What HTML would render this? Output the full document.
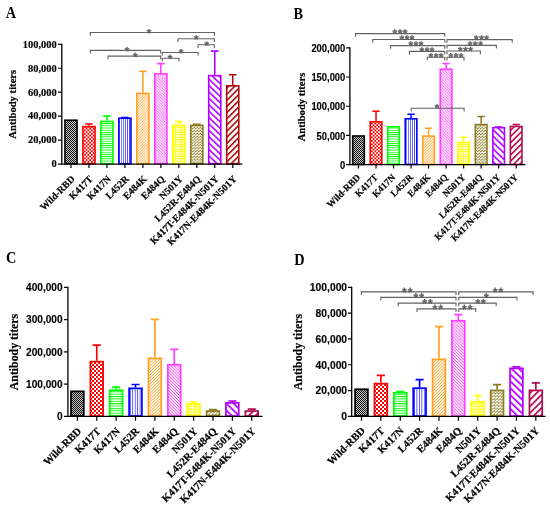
<!DOCTYPE html>
<html lang="en"><head><meta charset="utf-8"><title>Antibody titers</title>
<style>html,body{margin:0;padding:0;background:#fff}body{width:550px;height:510px;overflow:hidden}svg{display:block}.s{font-family:"Liberation Serif","DejaVu Serif",serif;font-weight:bold}.x{fill:#000;stroke:#000;stroke-width:0.22px}.s{stroke:#000;stroke-width:0.2px}.t{stroke:#000;stroke-width:0.15px}.a{font-family:"Liberation Sans","DejaVu Sans",sans-serif;font-weight:bold}</style></head><body>
<svg width="550" height="510" viewBox="0 0 550 510">
<rect width="550" height="510" fill="#fff"/>
<defs><pattern id="p0A" width="2" height="2" patternUnits="userSpaceOnUse" ><rect width="2" height="2" fill="#c4c4c4"/><rect width="1" height="1" fill="#151515"/><rect x="1" y="1" width="1" height="1" fill="#151515"/></pattern><pattern id="p1A" width="3.5" height="3.5" patternUnits="userSpaceOnUse" ><rect width="3.5" height="3.5" fill="#fff"/><rect width="1.75" height="1.75" fill="#ff0000"/><rect x="1.75" y="1.75" width="1.75" height="1.75" fill="#ff0000"/></pattern><pattern id="p2A" width="4" height="2.2" patternUnits="userSpaceOnUse" ><rect width="4" height="2.2" fill="#fff"/><rect width="4" height="0.9" fill="#00ff00"/></pattern><pattern id="p3A" width="2.05" height="4" patternUnits="userSpaceOnUse" ><rect width="2.05" height="4" fill="#fff"/><rect width="0.5" height="4" fill="#0000ff"/></pattern><pattern id="p4A" width="2" height="2" patternUnits="userSpaceOnUse" patternTransform="rotate(45)"><rect width="2" height="2" fill="#fff"/><rect width="0.72" height="2" fill="#ffa024"/></pattern><pattern id="p5A" width="2" height="2" patternUnits="userSpaceOnUse" patternTransform="rotate(-45)"><rect width="2" height="2" fill="#fff"/><rect width="0.72" height="2" fill="#ff3cff"/></pattern><pattern id="p6A" width="2.4" height="2.4" patternUnits="userSpaceOnUse" ><rect width="2.4" height="2.4" fill="#fff"/><rect width="2.4" height="0.78" fill="#ffff00"/><rect width="0.78" height="2.4" fill="#ffff00"/></pattern><pattern id="p7A" width="3" height="2.85" patternUnits="userSpaceOnUse" ><rect width="3" height="2.85" fill="#8b7a1e"/><path d="M0.6 2.05L2.4 0.8" stroke="#fff" stroke-width="1.6" stroke-linecap="round" fill="none"/></pattern><pattern id="p8A" width="4.6" height="4.6" patternUnits="userSpaceOnUse" patternTransform="rotate(-46)"><rect width="4.6" height="4.6" fill="#fff"/><rect width="1.6" height="4.6" fill="#b000ff"/></pattern><pattern id="p9A" width="4.35" height="4.35" patternUnits="userSpaceOnUse" patternTransform="rotate(45)"><rect width="4.35" height="4.35" fill="#fff"/><rect width="1.6" height="4.35" fill="#b00a0a"/></pattern><pattern id="p0B" width="2" height="2" patternUnits="userSpaceOnUse" ><rect width="2" height="2" fill="#c4c4c4"/><rect width="1" height="1" fill="#151515"/><rect x="1" y="1" width="1" height="1" fill="#151515"/></pattern><pattern id="p1B" width="3.5" height="3.5" patternUnits="userSpaceOnUse" ><rect width="3.5" height="3.5" fill="#fff"/><rect width="1.75" height="1.75" fill="#ff0000"/><rect x="1.75" y="1.75" width="1.75" height="1.75" fill="#ff0000"/></pattern><pattern id="p2B" width="4" height="2.2" patternUnits="userSpaceOnUse" ><rect width="4" height="2.2" fill="#fff"/><rect width="4" height="0.9" fill="#00ff00"/></pattern><pattern id="p3B" width="2.05" height="4" patternUnits="userSpaceOnUse" ><rect width="2.05" height="4" fill="#fff"/><rect width="0.5" height="4" fill="#0000ff"/></pattern><pattern id="p4B" width="2" height="2" patternUnits="userSpaceOnUse" patternTransform="rotate(45)"><rect width="2" height="2" fill="#fff"/><rect width="0.72" height="2" fill="#ffa024"/></pattern><pattern id="p5B" width="2" height="2" patternUnits="userSpaceOnUse" patternTransform="rotate(-45)"><rect width="2" height="2" fill="#fff"/><rect width="0.72" height="2" fill="#ff3cff"/></pattern><pattern id="p6B" width="2.4" height="2.4" patternUnits="userSpaceOnUse" ><rect width="2.4" height="2.4" fill="#fff"/><rect width="2.4" height="0.78" fill="#ffff00"/><rect width="0.78" height="2.4" fill="#ffff00"/></pattern><pattern id="p7B" width="3" height="2.85" patternUnits="userSpaceOnUse" ><rect width="3" height="2.85" fill="#8b7a1e"/><path d="M0.6 2.05L2.4 0.8" stroke="#fff" stroke-width="1.6" stroke-linecap="round" fill="none"/></pattern><pattern id="p8B" width="4.6" height="4.6" patternUnits="userSpaceOnUse" patternTransform="rotate(-46)"><rect width="4.6" height="4.6" fill="#fff"/><rect width="1.6" height="4.6" fill="#b000ff"/></pattern><pattern id="p9B" width="4.35" height="4.35" patternUnits="userSpaceOnUse" patternTransform="rotate(45)"><rect width="4.35" height="4.35" fill="#fff"/><rect width="1.6" height="4.35" fill="#b00c52"/></pattern><pattern id="p0C" width="2" height="2" patternUnits="userSpaceOnUse" ><rect width="2" height="2" fill="#c4c4c4"/><rect width="1" height="1" fill="#151515"/><rect x="1" y="1" width="1" height="1" fill="#151515"/></pattern><pattern id="p1C" width="4" height="4" patternUnits="userSpaceOnUse" ><rect width="4" height="4" fill="#fff"/><rect width="2" height="2" fill="#ff0000"/><rect x="2" y="2" width="2" height="2" fill="#ff0000"/></pattern><pattern id="p2C" width="4" height="2.2" patternUnits="userSpaceOnUse" patternTransform="scale(1.078)"><rect width="4" height="2.2" fill="#fff"/><rect width="4" height="0.9" fill="#00ff00"/></pattern><pattern id="p3C" width="2.45" height="4" patternUnits="userSpaceOnUse" ><rect width="2.45" height="4" fill="#fff"/><rect width="0.62" height="4" fill="#0000ff"/></pattern><pattern id="p4C" width="2" height="2" patternUnits="userSpaceOnUse" patternTransform="rotate(45) scale(1.078)"><rect width="2" height="2" fill="#fff"/><rect width="0.72" height="2" fill="#ffa024"/></pattern><pattern id="p5C" width="2" height="2" patternUnits="userSpaceOnUse" patternTransform="rotate(-45) scale(1.078)"><rect width="2" height="2" fill="#fff"/><rect width="0.72" height="2" fill="#ff3cff"/></pattern><pattern id="p6C" width="2.4" height="2.4" patternUnits="userSpaceOnUse" patternTransform="scale(1.078)"><rect width="2.4" height="2.4" fill="#fff"/><rect width="2.4" height="0.78" fill="#ffff00"/><rect width="0.78" height="2.4" fill="#ffff00"/></pattern><pattern id="p7C" width="3" height="2.85" patternUnits="userSpaceOnUse" patternTransform="scale(1.078)"><rect width="3" height="2.85" fill="#8b7a1e"/><path d="M0.6 2.05L2.4 0.8" stroke="#fff" stroke-width="1.6" stroke-linecap="round" fill="none"/></pattern><pattern id="p8C" width="4.6" height="4.6" patternUnits="userSpaceOnUse" patternTransform="rotate(-46) scale(1.078)"><rect width="4.6" height="4.6" fill="#fff"/><rect width="1.6" height="4.6" fill="#b000ff"/></pattern><pattern id="p9C" width="4.35" height="4.35" patternUnits="userSpaceOnUse" patternTransform="rotate(45) scale(1.078)"><rect width="4.35" height="4.35" fill="#fff"/><rect width="1.6" height="4.35" fill="#b00c52"/></pattern></defs>
<g id="panelA">
<text class="s" style="stroke:none" transform="translate(5.8 18) scale(0.9 1)" font-size="15.9" fill="#000">A</text>
<rect x="64.95" y="120.2" width="12.1" height="43.55" fill="url(#p0A)" stroke="#000000" stroke-width="1.6"/>
<path d="M88.97 125.8V124M85.22 124H92.72" stroke="#ff0000" stroke-width="1.55" fill="none"/>
<rect x="82.92" y="126.6" width="12.1" height="37.15" fill="url(#p1A)" stroke="#ff0000" stroke-width="1.6"/>
<path d="M106.94 120.7V116.1M103.19 116.1H110.69" stroke="#00ff00" stroke-width="1.55" fill="none"/>
<rect x="100.89" y="121.5" width="12.1" height="42.25" fill="url(#p2A)" stroke="#00ff00" stroke-width="1.6"/>
<path d="M124.91 117.4V117.6M121.16 117.6H128.66" stroke="#0000ff" stroke-width="1.55" fill="none"/>
<rect x="118.86" y="118.2" width="12.1" height="45.55" fill="url(#p3A)" stroke="#0000ff" stroke-width="1.6"/>
<path d="M142.88 92.6V71.2M139.13 71.2H146.63" stroke="#ffa024" stroke-width="1.55" fill="none"/>
<rect x="136.83" y="93.4" width="12.1" height="70.35" fill="url(#p4A)" stroke="#ffa024" stroke-width="1.6"/>
<path d="M160.85 73V63.6M157.1 63.6H164.6" stroke="#ff3cff" stroke-width="1.55" fill="none"/>
<rect x="154.8" y="73.8" width="12.1" height="89.95" fill="url(#p5A)" stroke="#ff3cff" stroke-width="1.6"/>
<path d="M178.82 124.6V121.6M175.07 121.6H182.57" stroke="#ffff00" stroke-width="1.55" fill="none"/>
<rect x="172.77" y="125.4" width="12.1" height="38.35" fill="url(#p6A)" stroke="#ffff00" stroke-width="1.6"/>
<path d="M196.79 124.6V124.3M193.04 124.3H200.54" stroke="#8b7a1e" stroke-width="1.55" fill="none"/>
<rect x="190.74" y="125.4" width="12.1" height="38.35" fill="url(#p7A)" stroke="#8b7a1e" stroke-width="1.6"/>
<path d="M214.76 74.8V51.1M211.01 51.1H218.51" stroke="#b000ff" stroke-width="1.55" fill="none"/>
<rect x="208.71" y="75.6" width="12.1" height="88.15" fill="url(#p8A)" stroke="#b000ff" stroke-width="1.6"/>
<path d="M232.73 85V74.8M228.98 74.8H236.48" stroke="#b00a0a" stroke-width="1.55" fill="none"/>
<rect x="226.68" y="85.8" width="12.1" height="77.95" fill="url(#p9A)" stroke="#b00a0a" stroke-width="1.6"/>
<path d="M61.8 43.7V164.05H242.4" stroke="#000" stroke-width="1.3" fill="none" stroke-linejoin="miter"/>
<text class="s t" x="56.7" y="167.35" font-size="10.45" text-anchor="end" fill="#000">0</text>
<text class="s t" x="56.7" y="143.4" font-size="10.45" text-anchor="end" fill="#000">20,000</text>
<text class="s t" x="56.7" y="119.45" font-size="10.45" text-anchor="end" fill="#000">40,000</text>
<text class="s t" x="56.7" y="95.5" font-size="10.45" text-anchor="end" fill="#000">60,000</text>
<text class="s t" x="56.7" y="71.55" font-size="10.45" text-anchor="end" fill="#000">80,000</text>
<text class="s t" x="56.7" y="47.6" font-size="10.45" text-anchor="end" fill="#000">100,000</text>
<path d="M58 164.05H61.8M58 140.1H61.8M58 116.15H61.8M58 92.2H61.8M58 68.25H61.8M58 44.3H61.8M71 164.05V168.05M88.97 164.05V168.05M106.94 164.05V168.05M124.91 164.05V168.05M142.88 164.05V168.05M160.85 164.05V168.05M178.82 164.05V168.05M196.79 164.05V168.05M214.76 164.05V168.05M232.73 164.05V168.05" stroke="#000" stroke-width="1.2" fill="none"/>
<text class="s x" font-size="9.8" text-anchor="end" transform="translate(75.5 179.55) rotate(-45)">Wild-RBD</text>
<text class="s x" font-size="9.8" text-anchor="end" transform="translate(93.47 179.55) rotate(-45)">K417T</text>
<text class="s x" font-size="9.8" text-anchor="end" transform="translate(111.44 179.55) rotate(-45)">K417N</text>
<text class="s x" font-size="9.8" text-anchor="end" transform="translate(129.41 179.55) rotate(-45)">L452R</text>
<text class="s x" font-size="9.8" text-anchor="end" transform="translate(147.38 179.55) rotate(-45)">E484K</text>
<text class="s x" font-size="9.8" text-anchor="end" transform="translate(165.35 179.55) rotate(-45)">E484Q</text>
<text class="s x" font-size="9.8" text-anchor="end" transform="translate(183.32 179.55) rotate(-45)">N501Y</text>
<text class="s x" font-size="9.8" text-anchor="end" transform="translate(201.29 179.55) rotate(-45)">L452R-E484Q</text>
<text class="s x" font-size="9.8" text-anchor="end" transform="translate(219.26 179.55) rotate(-45)">K417T-E484K-N501Y</text>
<text class="s x" font-size="9.8" text-anchor="end" transform="translate(237.23 179.55) rotate(-45)">K417N-E484K-N501Y</text>
<text class="s" font-size="10.65" text-anchor="middle" fill="#000" transform="translate(15.8 104.2) rotate(-90)">Antibody titers</text>
<path d="M90.3 35.7V32.5H214.4V35.7" stroke="#626262" stroke-width="1.1" fill="none"/>
<text class="a" transform="translate(149 37.1) rotate(0.03)" font-size="11.6" letter-spacing="0" text-anchor="middle" fill="#606060" stroke="#606060" stroke-width="0.28">*</text>
<path d="M178 41.9V38.7H214.4V41.9" stroke="#626262" stroke-width="1.1" fill="none"/>
<text class="a" transform="translate(196.3 43.3) rotate(0.03)" font-size="11.6" letter-spacing="0" text-anchor="middle" fill="#606060" stroke="#606060" stroke-width="0.28">*</text>
<path d="M198.1 48V44.8H214.4V48" stroke="#626262" stroke-width="1.1" fill="none"/>
<text class="a" transform="translate(206.8 49.4) rotate(0.03)" font-size="11.6" letter-spacing="0" text-anchor="middle" fill="#606060" stroke="#606060" stroke-width="0.28">*</text>
<path d="M90.3 53.6V50.4H160.7V53.6" stroke="#626262" stroke-width="1.1" fill="none"/>
<text class="a" transform="translate(127 55) rotate(0.03)" font-size="11.6" letter-spacing="0" text-anchor="middle" fill="#606060" stroke="#606060" stroke-width="0.28">*</text>
<path d="M108 59.3V56.1H160.7V59.3" stroke="#626262" stroke-width="1.1" fill="none"/>
<text class="a" transform="translate(135.3 60.7) rotate(0.03)" font-size="11.6" letter-spacing="0" text-anchor="middle" fill="#606060" stroke="#606060" stroke-width="0.28">*</text>
<path d="M162.2 55.7V52.5H198.1V55.7" stroke="#626262" stroke-width="1.1" fill="none"/>
<text class="a" transform="translate(181 57.1) rotate(0.03)" font-size="11.6" letter-spacing="0" text-anchor="middle" fill="#606060" stroke="#606060" stroke-width="0.28">*</text>
<path d="M162.2 61.4V58.2H179V61.4" stroke="#626262" stroke-width="1.1" fill="none"/>
<text class="a" transform="translate(170 62.8) rotate(0.03)" font-size="11.6" letter-spacing="0" text-anchor="middle" fill="#606060" stroke="#606060" stroke-width="0.28">*</text>
</g>
<g id="panelB">
<text class="s" style="stroke:none" transform="translate(293.45 18.75) scale(0.9 1)" font-size="15.9" fill="#000">B</text>
<rect x="352.68" y="135.98" width="11.63" height="28.43" fill="url(#p0B)" stroke="#000000" stroke-width="1.57"/>
<path d="M376.02 121V111.2M372.34 111.2H379.69" stroke="#ff0000" stroke-width="1.52" fill="none"/>
<rect x="370.2" y="121.78" width="11.63" height="42.63" fill="url(#p1B)" stroke="#ff0000" stroke-width="1.57"/>
<rect x="387.72" y="126.88" width="11.63" height="37.53" fill="url(#p2B)" stroke="#00ff00" stroke-width="1.57"/>
<path d="M411.06 118V114.2M407.38 114.2H414.74" stroke="#0000ff" stroke-width="1.52" fill="none"/>
<rect x="405.24" y="118.78" width="11.63" height="45.63" fill="url(#p3B)" stroke="#0000ff" stroke-width="1.57"/>
<path d="M428.58 135.3V128.3M424.9 128.3H432.25" stroke="#ffa024" stroke-width="1.52" fill="none"/>
<rect x="422.76" y="136.08" width="11.63" height="28.33" fill="url(#p4B)" stroke="#ffa024" stroke-width="1.57"/>
<path d="M446.1 68.4V63.5M442.43 63.5H449.78" stroke="#ff3cff" stroke-width="1.52" fill="none"/>
<rect x="440.28" y="69.18" width="11.63" height="95.23" fill="url(#p5B)" stroke="#ff3cff" stroke-width="1.57"/>
<path d="M463.62 141.6V137.2M459.94 137.2H467.3" stroke="#ffff00" stroke-width="1.52" fill="none"/>
<rect x="457.8" y="142.38" width="11.63" height="22.03" fill="url(#p6B)" stroke="#ffff00" stroke-width="1.57"/>
<path d="M481.14 123.8V116.4M477.46 116.4H484.81" stroke="#8b7a1e" stroke-width="1.52" fill="none"/>
<rect x="475.32" y="124.58" width="11.63" height="39.83" fill="url(#p7B)" stroke="#8b7a1e" stroke-width="1.57"/>
<path d="M498.66 126.9V127.1M494.98 127.1H502.33" stroke="#b000ff" stroke-width="1.52" fill="none"/>
<rect x="492.84" y="127.68" width="11.63" height="36.73" fill="url(#p8B)" stroke="#b000ff" stroke-width="1.57"/>
<path d="M516.18 125.7V124.4M512.51 124.4H519.86" stroke="#b00c52" stroke-width="1.52" fill="none"/>
<rect x="510.36" y="126.48" width="11.63" height="37.93" fill="url(#p9B)" stroke="#b00c52" stroke-width="1.57"/>
<path d="M349.9 47.2V164.7H525.5" stroke="#000" stroke-width="1.3" fill="none" stroke-linejoin="miter"/>
<text class="a t" transform="translate(345.3 168.75) scale(0.92 1)" font-size="10.2" text-anchor="end" fill="#000">0</text>
<text class="a t" transform="translate(345.3 139.53) scale(0.92 1)" font-size="10.2" text-anchor="end" fill="#000">50,000</text>
<text class="a t" transform="translate(345.3 110.3) scale(0.92 1)" font-size="10.2" text-anchor="end" fill="#000">100,000</text>
<text class="a t" transform="translate(345.3 81.07) scale(0.92 1)" font-size="10.2" text-anchor="end" fill="#000">150,000</text>
<text class="a t" transform="translate(345.3 51.85) scale(0.92 1)" font-size="10.2" text-anchor="end" fill="#000">200,000</text>
<path d="M346.1 164.7H349.9M346.1 135.47H349.9M346.1 106.25H349.9M346.1 77.02H349.9M346.1 47.8H349.9M358.5 164.7V168.62M376.02 164.7V168.62M393.54 164.7V168.62M411.06 164.7V168.62M428.58 164.7V168.62M446.1 164.7V168.62M463.62 164.7V168.62M481.14 164.7V168.62M498.66 164.7V168.62M516.18 164.7V168.62" stroke="#000" stroke-width="1.2" fill="none"/>
<text class="s x" font-size="9.45" text-anchor="end" transform="translate(360.9 177.9) rotate(-45)">Wild-RBD</text>
<text class="s x" font-size="9.45" text-anchor="end" transform="translate(378.42 177.9) rotate(-45)">K417T</text>
<text class="s x" font-size="9.45" text-anchor="end" transform="translate(395.94 177.9) rotate(-45)">K417N</text>
<text class="s x" font-size="9.45" text-anchor="end" transform="translate(413.46 177.9) rotate(-45)">L452R</text>
<text class="s x" font-size="9.45" text-anchor="end" transform="translate(430.98 177.9) rotate(-45)">E484K</text>
<text class="s x" font-size="9.45" text-anchor="end" transform="translate(448.5 177.9) rotate(-45)">E484Q</text>
<text class="s x" font-size="9.45" text-anchor="end" transform="translate(466.02 177.9) rotate(-45)">N501Y</text>
<text class="s x" font-size="9.45" text-anchor="end" transform="translate(483.54 177.9) rotate(-45)">L452R-E484Q</text>
<text class="s x" font-size="9.45" text-anchor="end" transform="translate(501.06 177.9) rotate(-45)">K417T-E484K-N501Y</text>
<text class="s x" font-size="9.45" text-anchor="end" transform="translate(518.58 177.9) rotate(-45)">K417N-E484K-N501Y</text>
<text class="s" font-size="10.6" text-anchor="middle" fill="#000" transform="translate(304.5 107) rotate(-90)">Antibody titers</text>
<path d="M355.5 36.8V33.6H444.8V36.8" stroke="#626262" stroke-width="1.1" fill="none"/>
<text class="a" transform="translate(400.27 37.62) rotate(0.03)" font-size="11.8" letter-spacing="0.55" text-anchor="middle" fill="#606060" stroke="#606060" stroke-width="0.28">***</text>
<path d="M372.8 42.7V39.5H444.8V42.7" stroke="#626262" stroke-width="1.1" fill="none"/>
<text class="a" transform="translate(407.27 43.52) rotate(0.03)" font-size="11.8" letter-spacing="0.55" text-anchor="middle" fill="#606060" stroke="#606060" stroke-width="0.28">***</text>
<path d="M390.6 48.8V45.6H444.8V48.8" stroke="#626262" stroke-width="1.1" fill="none"/>
<text class="a" transform="translate(416.27 49.62) rotate(0.03)" font-size="11.8" letter-spacing="0.55" text-anchor="middle" fill="#606060" stroke="#606060" stroke-width="0.28">***</text>
<path d="M409.4 54.6V51.4H444.8V54.6" stroke="#626262" stroke-width="1.1" fill="none"/>
<text class="a" transform="translate(427.27 55.42) rotate(0.03)" font-size="11.8" letter-spacing="0.55" text-anchor="middle" fill="#606060" stroke="#606060" stroke-width="0.28">***</text>
<path d="M427.2 60.4V57.2H444.8V60.4" stroke="#626262" stroke-width="1.1" fill="none"/>
<text class="a" transform="translate(436.27 61.22) rotate(0.03)" font-size="11.8" letter-spacing="0.55" text-anchor="middle" fill="#606060" stroke="#606060" stroke-width="0.28">***</text>
<path d="M447 42.8V39.6H512.2V42.8" stroke="#626262" stroke-width="1.1" fill="none"/>
<text class="a" transform="translate(481.77 43.62) rotate(0.03)" font-size="11.8" letter-spacing="0.55" text-anchor="middle" fill="#606060" stroke="#606060" stroke-width="0.28">***</text>
<path d="M447 48.6V45.4H496.4V48.6" stroke="#626262" stroke-width="1.1" fill="none"/>
<text class="a" transform="translate(475.57 49.42) rotate(0.03)" font-size="11.8" letter-spacing="0.55" text-anchor="middle" fill="#606060" stroke="#606060" stroke-width="0.28">***</text>
<path d="M447 54.2V51H480.4V54.2" stroke="#626262" stroke-width="1.1" fill="none"/>
<text class="a" transform="translate(465.77 55.02) rotate(0.03)" font-size="11.8" letter-spacing="0.55" text-anchor="middle" fill="#606060" stroke="#606060" stroke-width="0.28">***</text>
<path d="M447 60.4V57.2H464V60.4" stroke="#626262" stroke-width="1.1" fill="none"/>
<text class="a" transform="translate(456.27 61.22) rotate(0.03)" font-size="11.8" letter-spacing="0.55" text-anchor="middle" fill="#606060" stroke="#606060" stroke-width="0.28">***</text>
<path d="M411.2 111.4V108.2H464.1V111.4" stroke="#626262" stroke-width="1.1" fill="none"/>
<text class="a" transform="translate(437.27 112.22) rotate(0.03)" font-size="11.8" letter-spacing="0.55" text-anchor="middle" fill="#606060" stroke="#606060" stroke-width="0.28">*</text>
</g>
<g id="panelC">
<text class="s" style="stroke:none" transform="translate(5.9 263.4) scale(0.9 1)" font-size="15.9" fill="#000">C</text>
<rect x="71.01" y="391.36" width="12.78" height="24.68" fill="url(#p0C)" stroke="#000000" stroke-width="1.72"/>
<path d="M96.77 360.8V345.2M92.73 345.2H100.81" stroke="#ff0000" stroke-width="1.67" fill="none"/>
<rect x="90.38" y="361.66" width="12.78" height="54.38" fill="url(#p1C)" stroke="#ff0000" stroke-width="1.72"/>
<path d="M116.14 389.3V387.2M112.1 387.2H120.18" stroke="#00ff00" stroke-width="1.67" fill="none"/>
<rect x="109.75" y="390.16" width="12.78" height="25.88" fill="url(#p2C)" stroke="#00ff00" stroke-width="1.72"/>
<path d="M135.51 387.5V384.5M131.47 384.5H139.55" stroke="#0000ff" stroke-width="1.67" fill="none"/>
<rect x="129.12" y="388.36" width="12.78" height="27.68" fill="url(#p3C)" stroke="#0000ff" stroke-width="1.72"/>
<path d="M154.88 357.5V319.3M150.84 319.3H158.92" stroke="#ffa024" stroke-width="1.67" fill="none"/>
<rect x="148.49" y="358.36" width="12.78" height="57.68" fill="url(#p4C)" stroke="#ffa024" stroke-width="1.72"/>
<path d="M174.25 363.9V349.3M170.21 349.3H178.29" stroke="#ff3cff" stroke-width="1.67" fill="none"/>
<rect x="167.86" y="364.76" width="12.78" height="51.28" fill="url(#p5C)" stroke="#ff3cff" stroke-width="1.72"/>
<path d="M193.62 403.1V402M189.58 402H197.66" stroke="#ffff00" stroke-width="1.67" fill="none"/>
<rect x="187.23" y="403.96" width="12.78" height="12.08" fill="url(#p6C)" stroke="#ffff00" stroke-width="1.72"/>
<path d="M212.99 410.2V409.6M208.95 409.6H217.03" stroke="#8b7a1e" stroke-width="1.67" fill="none"/>
<rect x="206.6" y="411.06" width="12.78" height="4.98" fill="url(#p7C)" stroke="#8b7a1e" stroke-width="1.72"/>
<path d="M232.36 402V401M228.32 401H236.4" stroke="#b000ff" stroke-width="1.67" fill="none"/>
<rect x="225.97" y="402.86" width="12.78" height="13.18" fill="url(#p8C)" stroke="#b000ff" stroke-width="1.72"/>
<path d="M251.73 410.2V409.2M247.69 409.2H255.77" stroke="#b00c52" stroke-width="1.67" fill="none"/>
<rect x="245.34" y="411.06" width="12.78" height="4.98" fill="url(#p9C)" stroke="#b00c52" stroke-width="1.72"/>
<path d="M67.9 286.7V416.4H262.6" stroke="#000" stroke-width="1.3" fill="none" stroke-linejoin="miter"/>
<text class="a t" x="62.6" y="420.2" font-size="10.1" text-anchor="end" fill="#000">0</text>
<text class="a t" x="62.6" y="387.93" font-size="10.1" text-anchor="end" fill="#000">100,000</text>
<text class="a t" x="62.6" y="355.65" font-size="10.1" text-anchor="end" fill="#000">200,000</text>
<text class="a t" x="62.6" y="323.38" font-size="10.1" text-anchor="end" fill="#000">300,000</text>
<text class="a t" x="62.6" y="291.1" font-size="10.1" text-anchor="end" fill="#000">400,000</text>
<path d="M64.1 416.4H67.9M64.1 384.12H67.9M64.1 351.85H67.9M64.1 319.57H67.9M64.1 287.3H67.9M77.4 416.4V420.71M96.77 416.4V420.71M116.14 416.4V420.71M135.51 416.4V420.71M154.88 416.4V420.71M174.25 416.4V420.71M193.62 416.4V420.71M212.99 416.4V420.71M232.36 416.4V420.71M251.73 416.4V420.71" stroke="#000" stroke-width="1.2" fill="none"/>
<text class="s x" font-size="10.65" text-anchor="end" transform="translate(81.9 431.9) rotate(-45)">Wild-RBD</text>
<text class="s x" font-size="10.65" text-anchor="end" transform="translate(101.27 431.9) rotate(-45)">K417T</text>
<text class="s x" font-size="10.65" text-anchor="end" transform="translate(120.64 431.9) rotate(-45)">K417N</text>
<text class="s x" font-size="10.65" text-anchor="end" transform="translate(140.01 431.9) rotate(-45)">L452R</text>
<text class="s x" font-size="10.65" text-anchor="end" transform="translate(159.38 431.9) rotate(-45)">E484K</text>
<text class="s x" font-size="10.65" text-anchor="end" transform="translate(178.75 431.9) rotate(-45)">E484Q</text>
<text class="s x" font-size="10.65" text-anchor="end" transform="translate(198.12 431.9) rotate(-45)">N501Y</text>
<text class="s x" font-size="10.65" text-anchor="end" transform="translate(217.49 431.9) rotate(-45)">L452R-E484Q</text>
<text class="s x" font-size="10.65" text-anchor="end" transform="translate(236.86 431.9) rotate(-45)">K417T-E484K-N501Y</text>
<text class="s x" font-size="10.65" text-anchor="end" transform="translate(256.23 431.9) rotate(-45)">K417N-E484K-N501Y</text>
<text class="s" font-size="11.8" text-anchor="middle" fill="#000" transform="translate(18 352) rotate(-90)">Antibody titers</text>
</g>
<g id="panelD">
<text class="s" style="stroke:none" transform="translate(294.2 264.6) scale(0.9 1)" font-size="15.9" fill="#000">D</text>
<rect x="355.11" y="389.26" width="12.78" height="26.78" fill="url(#p0C)" stroke="#000000" stroke-width="1.72"/>
<path d="M380.87 382.8V375.3M376.83 375.3H384.91" stroke="#ff0000" stroke-width="1.67" fill="none"/>
<rect x="374.48" y="383.66" width="12.78" height="32.38" fill="url(#p1C)" stroke="#ff0000" stroke-width="1.72"/>
<path d="M400.24 391.9V391.6M396.2 391.6H404.28" stroke="#00ff00" stroke-width="1.67" fill="none"/>
<rect x="393.85" y="392.76" width="12.78" height="23.28" fill="url(#p2C)" stroke="#00ff00" stroke-width="1.72"/>
<path d="M419.61 387.3V379.6M415.57 379.6H423.65" stroke="#0000ff" stroke-width="1.67" fill="none"/>
<rect x="413.22" y="388.16" width="12.78" height="27.88" fill="url(#p3C)" stroke="#0000ff" stroke-width="1.72"/>
<path d="M438.98 358.5V326.7M434.94 326.7H443.02" stroke="#ffa024" stroke-width="1.67" fill="none"/>
<rect x="432.59" y="359.36" width="12.78" height="56.68" fill="url(#p4C)" stroke="#ffa024" stroke-width="1.72"/>
<path d="M458.35 319.9V314.7M454.31 314.7H462.39" stroke="#ff3cff" stroke-width="1.67" fill="none"/>
<rect x="451.96" y="320.76" width="12.78" height="95.28" fill="url(#p5C)" stroke="#ff3cff" stroke-width="1.72"/>
<path d="M477.72 401V395.7M473.68 395.7H481.76" stroke="#ffff00" stroke-width="1.67" fill="none"/>
<rect x="471.33" y="401.86" width="12.78" height="14.18" fill="url(#p6C)" stroke="#ffff00" stroke-width="1.72"/>
<path d="M497.09 389.6V384.7M493.05 384.7H501.13" stroke="#8b7a1e" stroke-width="1.67" fill="none"/>
<rect x="490.7" y="390.46" width="12.78" height="25.58" fill="url(#p7C)" stroke="#8b7a1e" stroke-width="1.72"/>
<path d="M516.46 367.5V366.9M512.42 366.9H520.5" stroke="#b000ff" stroke-width="1.67" fill="none"/>
<rect x="510.07" y="368.36" width="12.78" height="47.68" fill="url(#p8C)" stroke="#b000ff" stroke-width="1.72"/>
<path d="M535.83 389.5V382.9M531.79 382.9H539.87" stroke="#b00c52" stroke-width="1.67" fill="none"/>
<rect x="529.44" y="390.36" width="12.78" height="25.68" fill="url(#p9C)" stroke="#b00c52" stroke-width="1.72"/>
<path d="M351.7 286.7V416.4H545.5" stroke="#000" stroke-width="1.3" fill="none" stroke-linejoin="miter"/>
<text class="a t" x="347.1" y="420.25" font-size="10.3" text-anchor="end" fill="#000">0</text>
<text class="a t" x="347.1" y="394.43" font-size="10.3" text-anchor="end" fill="#000">20,000</text>
<text class="a t" x="347.1" y="368.61" font-size="10.3" text-anchor="end" fill="#000">40,000</text>
<text class="a t" x="347.1" y="342.79" font-size="10.3" text-anchor="end" fill="#000">60,000</text>
<text class="a t" x="347.1" y="316.97" font-size="10.3" text-anchor="end" fill="#000">80,000</text>
<text class="a t" x="347.1" y="291.15" font-size="10.3" text-anchor="end" fill="#000">100,000</text>
<path d="M347.9 416.4H351.7M347.9 390.58H351.7M347.9 364.76H351.7M347.9 338.94H351.7M347.9 313.12H351.7M347.9 287.3H351.7M361.5 416.4V420.71M380.87 416.4V420.71M400.24 416.4V420.71M419.61 416.4V420.71M438.98 416.4V420.71M458.35 416.4V420.71M477.72 416.4V420.71M497.09 416.4V420.71M516.46 416.4V420.71M535.83 416.4V420.71" stroke="#000" stroke-width="1.2" fill="none"/>
<text class="s x" font-size="10.65" text-anchor="end" transform="translate(365.6 431.4) rotate(-45)">Wild-RBD</text>
<text class="s x" font-size="10.65" text-anchor="end" transform="translate(384.97 431.4) rotate(-45)">K417T</text>
<text class="s x" font-size="10.65" text-anchor="end" transform="translate(404.34 431.4) rotate(-45)">K417N</text>
<text class="s x" font-size="10.65" text-anchor="end" transform="translate(423.71 431.4) rotate(-45)">L452R</text>
<text class="s x" font-size="10.65" text-anchor="end" transform="translate(443.08 431.4) rotate(-45)">E484K</text>
<text class="s x" font-size="10.65" text-anchor="end" transform="translate(462.45 431.4) rotate(-45)">E484Q</text>
<text class="s x" font-size="10.65" text-anchor="end" transform="translate(481.82 431.4) rotate(-45)">N501Y</text>
<text class="s x" font-size="10.65" text-anchor="end" transform="translate(501.19 431.4) rotate(-45)">L452R-E484Q</text>
<text class="s x" font-size="10.65" text-anchor="end" transform="translate(520.56 431.4) rotate(-45)">K417T-E484K-N501Y</text>
<text class="s x" font-size="10.65" text-anchor="end" transform="translate(539.93 431.4) rotate(-45)">K417N-E484K-N501Y</text>
<text class="s" font-size="11.8" text-anchor="middle" fill="#000" transform="translate(302 352) rotate(-90)">Antibody titers</text>
<path d="M361.3 295.1V291.9H456V295.1" stroke="#626262" stroke-width="1.1" fill="none"/>
<text class="a" transform="translate(407.65 296.32) rotate(0.03)" font-size="12.2" letter-spacing="0.9" text-anchor="middle" fill="#606060" stroke="#606060" stroke-width="0.28">**</text>
<path d="M380.9 300.6V297.4H456V300.6" stroke="#626262" stroke-width="1.1" fill="none"/>
<text class="a" transform="translate(419.25 301.82) rotate(0.03)" font-size="12.2" letter-spacing="0.9" text-anchor="middle" fill="#606060" stroke="#606060" stroke-width="0.28">**</text>
<path d="M398.2 306.3V303.1H456V306.3" stroke="#626262" stroke-width="1.1" fill="none"/>
<text class="a" transform="translate(427.95 307.52) rotate(0.03)" font-size="12.2" letter-spacing="0.9" text-anchor="middle" fill="#606060" stroke="#606060" stroke-width="0.28">**</text>
<path d="M417 312.1V308.9H456V312.1" stroke="#626262" stroke-width="1.1" fill="none"/>
<text class="a" transform="translate(438.25 313.32) rotate(0.03)" font-size="12.2" letter-spacing="0.9" text-anchor="middle" fill="#606060" stroke="#606060" stroke-width="0.28">**</text>
<path d="M458.8 295.1V291.9H533.1V295.1" stroke="#626262" stroke-width="1.1" fill="none"/>
<text class="a" transform="translate(498.45 296.32) rotate(0.03)" font-size="12.2" letter-spacing="0.9" text-anchor="middle" fill="#606060" stroke="#606060" stroke-width="0.28">**</text>
<path d="M458.8 300.6V297.4H517V300.6" stroke="#626262" stroke-width="1.1" fill="none"/>
<text class="a" transform="translate(486.95 301.82) rotate(0.03)" font-size="12.2" letter-spacing="0.9" text-anchor="middle" fill="#606060" stroke="#606060" stroke-width="0.28">*</text>
<path d="M458.8 306.3V303.1H496.2V306.3" stroke="#626262" stroke-width="1.1" fill="none"/>
<text class="a" transform="translate(481.05 307.52) rotate(0.03)" font-size="12.2" letter-spacing="0.9" text-anchor="middle" fill="#606060" stroke="#606060" stroke-width="0.28">**</text>
<path d="M458.8 312.1V308.9H475.8V312.1" stroke="#626262" stroke-width="1.1" fill="none"/>
<text class="a" transform="translate(467.65 313.32) rotate(0.03)" font-size="12.2" letter-spacing="0.9" text-anchor="middle" fill="#606060" stroke="#606060" stroke-width="0.28">**</text>
</g>
</svg></body></html>
